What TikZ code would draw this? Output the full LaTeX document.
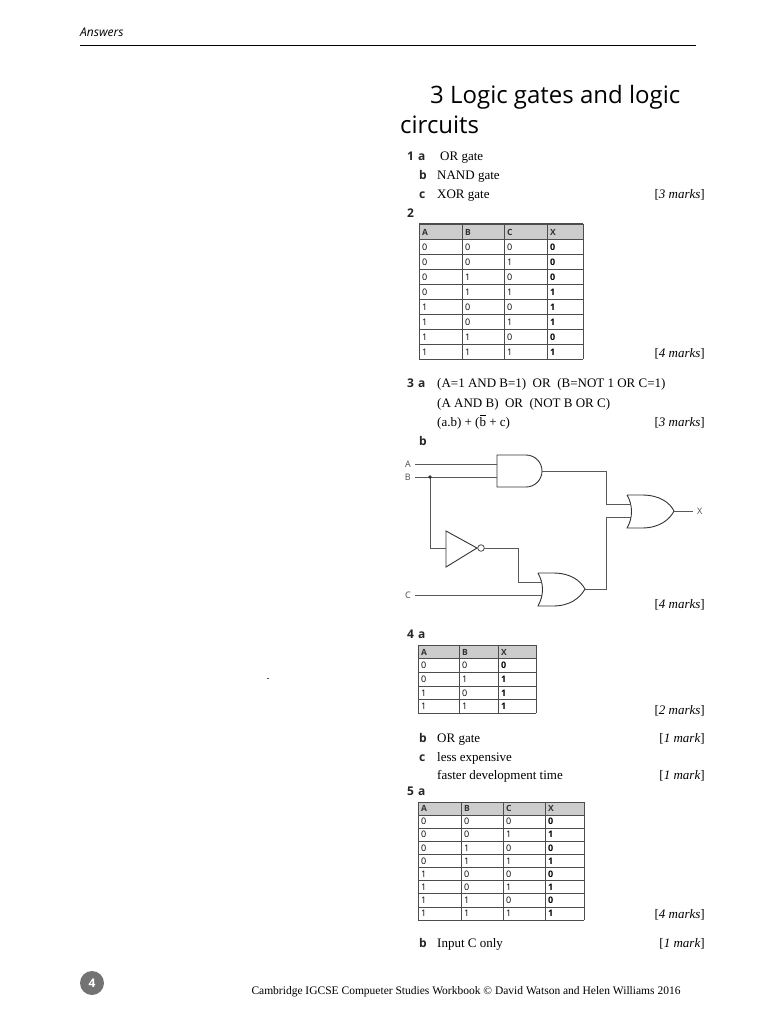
\documentclass[tikz,border=0pt]{standalone}
\usepackage{fontspec}
\setmainfont{Liberation Serif}
\setsansfont{Open Sans}
\begin{document}
\begin{tikzpicture}[x=1pt,y=-1pt,
  body/.style={anchor=base west,inner sep=0,font=\fontsize{13}{15}\selectfont},
  num/.style={anchor=base west,inner sep=0,font=\sffamily\bfseries\fontsize{12}{14}\selectfont,text=black!85},
  marks/.style={anchor=base east,inner sep=0,font=\fontsize{13}{15}\selectfont},
  cell/.style={anchor=west,inner sep=0,font=\sffamily\fontsize{9}{10}\selectfont},
  hcell/.style={anchor=west,inner sep=0,font=\sffamily\bfseries\fontsize{8.5}{10}\selectfont,text=black!80},
  bcell/.style={anchor=west,inner sep=0,font=\sffamily\bfseries\fontsize{9}{10}\selectfont},
  grid/.style={draw=black!70,line width=0.6pt},
  wire/.style={draw=black!65,line width=0.8pt},
  gate/.style={draw=black!80,line width=0.9pt,fill=white},
  lab/.style={inner sep=0,font=\sffamily\fontsize{9}{10}\selectfont,text=black!70}]
\useasboundingbox (0,0) rectangle (768,1024);
\fill[white] (0,0) rectangle (768,1024);
% header
\node[anchor=base west,inner sep=0,font=\sffamily\itshape\fontsize{12}{14}\selectfont] (hdr) at (80,37) {Answers};
\draw[line width=1pt] (80,46) -- (696,46);
\node[anchor=base west,inner sep=0,font=\sffamily\fontsize{24}{28}\selectfont] (t1) at (430,104) {3 Logic gates and logic};
\node[anchor=base west,inner sep=0,font=\sffamily\fontsize{24}{28}\selectfont] (t2) at (400,134) {circuits};
% Q1
\node[num] (q1) at (407,161) {1\,\,a};
\node[body] (q1a) at (440,161) {OR gate};
\node[num] (q1b) at (419,180) {b};
\node[body] (q1bt) at (437,180) {NAND gate};
\node[num] (q1c) at (419,199) {c};
\node[body] (q1ct) at (437,199) {XOR gate};
\node[marks] (m1) at (705,199) {[\textit{3 marks}]};
\node[num] (q2) at (407,218) {2};
% table 2
\fill[black!20] (419,224) rectangle (583,240);
\foreach \xx in {419,462,504,547,583} \draw[grid] (\xx,224) -- (\xx,359);
\foreach \k in {0,...,9} \draw[grid] (419,{224+\k*15}) -- (583,{224+\k*15});
\draw[grid,line width=1.2pt] (419,224) -- (583,224);
\foreach \h/\xx in {A/422,B/465,C/507,X/550} \node[hcell] (t2h\h) at (\xx,232) {\h};
\foreach \a/\b/\c/\o [count=\i] in {0/0/0/0,0/0/1/0,0/1/0/0,0/1/1/1,1/0/0/1,1/0/1/1,1/1/0/0,1/1/1/1}{
  \node[cell] (t2a\i) at (422,{232+\i*15}) {\a};
  \node[cell] (t2b\i) at (465,{232+\i*15}) {\b};
  \node[cell] (t2c\i) at (507,{232+\i*15}) {\c};
  \node[bcell] (t2x\i) at (550,{232+\i*15}) {\o};}
\node[marks] (m2) at (705,357) {[\textit{4 marks}]};
% Q3
\node[num] (q3) at (407,387) {3\,\,a};
\node[body] (q3a1) at (437,387) {(A=1 AND B=1)\ \ OR\ \ (B=NOT 1 OR C=1)};
\node[body] (q3a2) at (437,407) {(A AND B)\ \ OR\ \ (NOT B OR C)};
\node[body] (q3a3) at (437,426) {(a.b) + ($\overline{\mathrm{b}}$ + c)};
\node[marks] (m3) at (705,426) {[\textit{3 marks}]};
\node[num] (q3b) at (419,445) {b};
% circuit
\coordinate (Ain) at (415,464); \coordinate (Bin) at (415,477); \coordinate (Cin) at (415,595);
\node[lab,anchor=east] (LA) at (411,464) {A};
\node[lab,anchor=east] (LB) at (411,477) {B};
\node[lab,anchor=east] (LC) at (411,595) {C};
\coordinate (dot) at (430,477);
% AND gate
\draw[gate] (497,455) -- (526,455) arc[start angle=-90,end angle=90,radius=16] -- (497,487) -- cycle;
\coordinate (andA) at (497,464); \coordinate (andB) at (497,477); \coordinate (andO) at (542,471);
% OR2
\draw[gate] (627,495) -- (642,495) .. controls (660,495) and (670,503) .. (674,511)
  .. controls (670,519) and (660,528) .. (642,528) -- (627,528) .. controls (633,518) and (633,505) .. (627,495);
\coordinate (or2a) at (631,504); \coordinate (or2b) at (631,517); \coordinate (or2o) at (674,511);
\coordinate (Xout) at (693,511);
\node[lab,anchor=west] (LX) at (697,511) {X};
% NOT
\draw[gate] (446,531) -- (477,548) -- (446,567) -- cycle;
\draw[gate,line width=0.7pt] (481,548) circle[radius=3.3];
\coordinate (notI) at (446,548); \coordinate (notO) at (484.3,548);
% lower OR
\draw[gate] (538,573) -- (553,573) .. controls (570,573) and (580,580) .. (585,589)
  .. controls (580,598) and (570,606) .. (553,606) -- (538,606) .. controls (544,595) and (544,584) .. (538,573);
\coordinate (or1a) at (542,582); \coordinate (or1b) at (542,595); \coordinate (or1o) at (585,589);
% wires
\draw[wire] (Ain) -- (andA);
\draw[wire] (Bin) -- (andB);
\draw[wire] (andO) -- (606,471) -- (606,504) -- (or2a);
\draw[wire] (or2o) -- (Xout);
\draw[wire] (dot) -- (430,548) -- (notI);
\fill[black!80] (dot) circle[radius=1.8];
\draw[wire] (notO) -- (518,548) -- (518,582) -- (or1a);
\draw[wire] (Cin) -- (or1b);
\draw[wire] (or1o) -- (606,589) -- (606,517) -- (or2b);
\node[marks] (m3b) at (705,608) {[\textit{4 marks}]};
% Q4
\node[num] (q4) at (407,638) {4\,\,a};
\fill[black!20] (418,645) rectangle (536,659);
\foreach \xx in {418,459,498,536} \draw[grid] (\xx,645) -- (\xx,713);
\foreach \k in {0,...,5} \draw[grid] (418,{645+\k*13.6}) -- (536,{645+\k*13.6});
\foreach \h/\xx in {A/421,B/462,X/501} \node[hcell] (t4h\h) at (\xx,652) {\h};
\foreach \a/\b/\o [count=\i] in {0/0/0,0/1/1,1/0/1,1/1/1}{
  \node[cell] (t4a\i) at (421,{652+\i*13.6}) {\a};
  \node[cell] (t4b\i) at (462,{652+\i*13.6}) {\b};
  \node[bcell] (t4x\i) at (501,{652+\i*13.6}) {\o};}
\node[anchor=base,inner sep=0,font=\sffamily\fontsize{9}{10}\selectfont] (dash) at (268,681) {-};
\node[marks] (m4) at (705,714) {[\textit{2 marks}]};
\node[num] (q4b) at (419,742) {b};
\node[body] (q4bt) at (437,742) {OR gate};
\node[marks] (m4b) at (705,742) {[\textit{1 mark}]};
\node[num] (q4c) at (419,761) {c};
\node[body] (q4c1) at (437,761) {less expensive};
\node[body] (q4c2) at (437,779) {faster development time};
\node[marks] (m4c) at (705,779) {[\textit{1 mark}]};
% Q5
\node[num] (q5) at (407,795) {5\,\,a};
\fill[black!20] (418,802) rectangle (584,815.1);
\foreach \xx in {418,461,503,545,584} \draw[grid] (\xx,802) -- (\xx,920);
\foreach \k in {0,...,9} \draw[grid] (418,{802+\k*13.1}) -- (584,{802+\k*13.1});
\foreach \h/\xx in {A/421,B/464,C/506,X/548} \node[hcell] (t5h\h) at (\xx,808.5) {\h};
\foreach \a/\b/\c/\o [count=\i] in {0/0/0/0,0/0/1/1,0/1/0/0,0/1/1/1,1/0/0/0,1/0/1/1,1/1/0/0,1/1/1/1}{
  \node[cell] (t5a\i) at (421,{808.5+\i*13.1}) {\a};
  \node[cell] (t5b\i) at (464,{808.5+\i*13.1}) {\b};
  \node[cell] (t5c\i) at (506,{808.5+\i*13.1}) {\c};
  \node[bcell] (t5x\i) at (548,{808.5+\i*13.1}) {\o};}
\node[marks] (m5) at (705,918) {[\textit{4 marks}]};
\node[num] (q5b) at (419,947) {b};
\node[body] (q5bt) at (437,947) {Input C only};
\node[marks] (m5b) at (705,947) {[\textit{1 mark}]};
% footer
\node[circle,fill=black!55,minimum size=24pt,inner sep=0,text=white,font=\sffamily\bfseries\fontsize{12}{14}\selectfont] (pg) at (92,983) {4};
\node[anchor=base,inner sep=0,font=\fontsize{11.5}{13}\selectfont] (foot) at (466,994) {Cambridge IGCSE Compueter Studies Workbook \textcopyright{} David Watson and Helen Williams 2016};
\end{tikzpicture}
\end{document}
